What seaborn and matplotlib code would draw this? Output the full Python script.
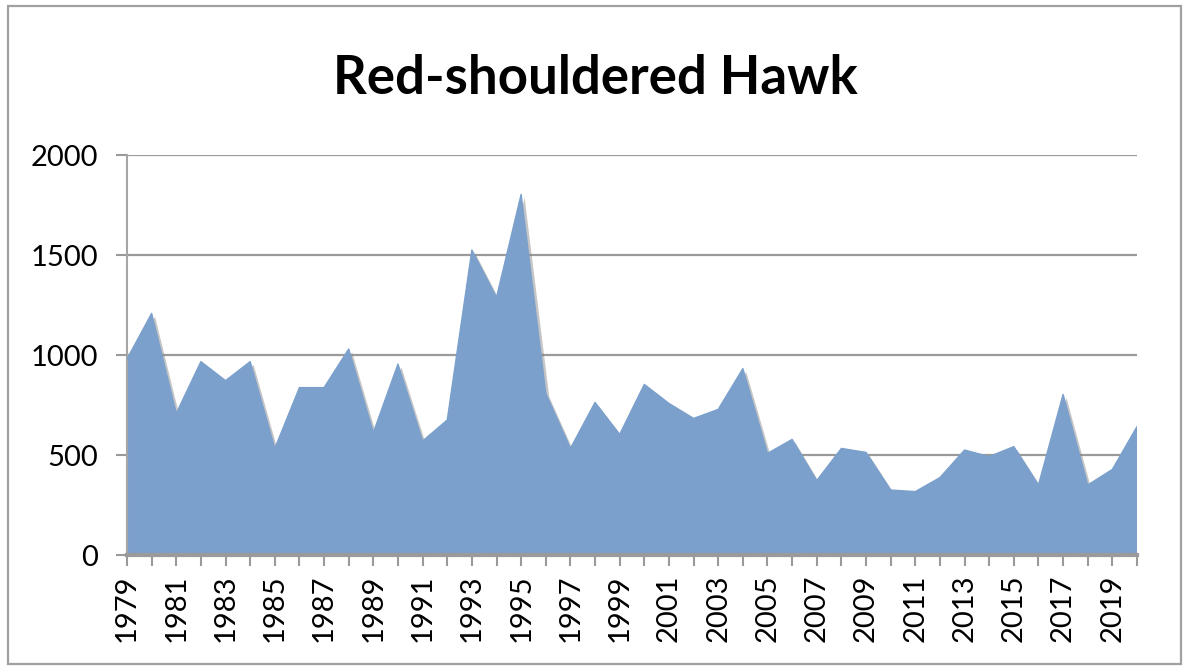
import matplotlib
matplotlib.use("Agg")
import matplotlib.pyplot as plt
import matplotlib.patheffects as pe
from matplotlib.patches import Rectangle
import seaborn as sns
import pandas as pd

# yearly counts
years = list(range(1979, 2021))
counts = [980, 1208, 708, 967, 872, 967, 533, 837, 837, 1030,
          612, 955, 570, 675, 1525, 1288, 1803, 808, 533, 763,
          603, 853, 758, 683, 728, 932, 508, 578, 372, 533,
          513, 325, 317, 387, 525, 492, 542, 350, 803, 350,
          428, 642]
title = "Red-shouldered Hawk"
yticks = [0, 500, 1000, 1500, 2000]

df = pd.DataFrame({"year": years, "count": counts})

sns.set_theme(style="white")
plt.rcParams['font.family'] = ['Lato', 'DejaVu Sans']

fill_color = "#7ba0cc"
grid_color = "#9a9a9a"

fig = plt.figure(figsize=(11.9, 6.72), dpi=100)
ax = fig.add_axes([127 / 1190, 1 - 555 / 672, (1137 - 127) / 1190, 400 / 672])

area = ax.fill_between(df["year"], df["count"], 0, color=fill_color, lw=0, zorder=2)
area.set_path_effects([pe.SimplePatchShadow(offset=(2.5, -2.5), shadow_rgbFace="#808080", alpha=0.45),
                       pe.Normal()])
sns.lineplot(data=df, x="year", y="count", ax=ax, color=fill_color, lw=1, zorder=3)

ax.set_xlim(years[0], years[-1])
ax.set_ylim(0, 2000)
ax.set_yticks(yticks)
ax.set_yticklabels([str(v) for v in yticks])
ax.set_xticks(years)
ax.set_xticklabels([str(y) if (y - years[0]) % 2 == 0 else "" for y in years], rotation=90)
ax.set_xlabel("")
ax.set_ylabel("")

ax.yaxis.grid(True, color=grid_color, lw=1.6, zorder=0)
ax.set_axisbelow(True)

for s in ["top", "right"]:
    ax.spines[s].set_visible(False)
ax.spines["left"].set_color("#a6a6a6")
ax.spines["left"].set_linewidth(1.5)
ax.spines["bottom"].set_color(grid_color)
ax.spines["bottom"].set_linewidth(3)
ax.spines["bottom"].set_zorder(4)

ax.tick_params(axis="y", which="both", left=True, length=8, width=1.5, color=grid_color,
               labelsize=21, labelcolor="black", pad=13)
ax.tick_params(axis="x", which="both", bottom=True, length=8, width=1.5, color=grid_color,
               labelsize=21, labelcolor="black", pad=6)

fig.text(0.5, 1 - 78 / 672, title, ha="center", va="center",
         fontsize=38, fontweight="bold", color="black")

fig.patches.append(Rectangle((8 / 1190, 1 - 664 / 672), (1181 - 8) / 1190, (664 - 6) / 672,
                             transform=fig.transFigure, fill=False, edgecolor="#a0a0a0", lw=1.6))

fig.savefig("out.png", dpi=100, facecolor="white")
